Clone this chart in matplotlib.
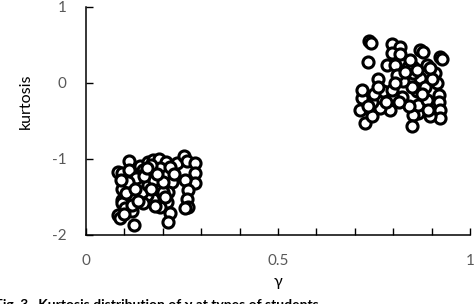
import matplotlib
matplotlib.use("Agg")
import matplotlib.pyplot as plt
import numpy as np

# Cluster 1 (low gamma)
g1 = [0.084, 0.093, 0.113, 0.113, 0.141, 0.148, 0.162, 0.175, 0.191, 0.208,
      0.175, 0.193, 0.210, 0.236, 0.255, 0.262, 0.284, 0.284, 0.284, 0.258,
      0.266, 0.262, 0.266, 0.258, 0.219, 0.223, 0.214, 0.210, 0.219, 0.214,
      0.193, 0.188, 0.174, 0.160, 0.149, 0.136, 0.115, 0.095, 0.093, 0.093,
      0.084, 0.089, 0.119, 0.125, 0.145, 0.162, 0.184, 0.193, 0.201, 0.102,
      0.141, 0.177, 0.100, 0.120, 0.130, 0.170, 0.200, 0.230, 0.110,
      0.105, 0.128, 0.152, 0.168, 0.185, 0.205, 0.090, 0.135, 0.158, 0.180]
k1 = [-1.17, -1.18, -1.02, -1.14, -1.09, -1.14, -1.04, -1.01, -1.00, -1.04,
      -1.19, -1.12, -1.21, -1.05, -0.96, -1.02, -1.05, -1.18, -1.32, -1.28,
      -1.41, -1.52, -1.63, -1.65, -1.10, -1.30, -1.43, -1.56, -1.71, -1.83,
      -1.63, -1.50, -1.53, -1.47, -1.58, -1.32, -1.50, -1.39, -1.54, -1.58,
      -1.74, -1.78, -1.69, -1.87, -1.43, -1.34, -1.32, -1.39, -1.43, -1.65,
      -1.23, -1.28, -1.72, -1.60, -1.25, -1.08, -1.30, -1.20, -1.30,
      -1.45, -1.40, -1.22, -1.40, -1.20, -1.50, -1.28, -1.55, -1.12, -1.62]

# Cluster 2 (high gamma)
g2 = [0.738, 0.741, 0.735, 0.796, 0.818, 0.796, 0.818, 0.783, 0.805, 0.852,
      0.870, 0.877, 0.922, 0.926, 0.887, 0.909, 0.913, 0.918, 0.918, 0.922,
      0.922, 0.896, 0.865, 0.852, 0.848, 0.865, 0.861, 0.870, 0.848, 0.826,
      0.822, 0.800, 0.792, 0.766, 0.744, 0.718, 0.714, 0.727, 0.744, 0.774,
      0.796, 0.852, 0.883, 0.887, 0.718, 0.839, 0.861, 0.750, 0.780, 0.810,
      0.840, 0.900, 0.890, 0.760,
      0.830, 0.875, 0.805, 0.760, 0.735, 0.895, 0.845, 0.815]
k2 = [0.557, 0.53, 0.27, 0.51, 0.48, 0.39, 0.38, 0.24, 0.24, 0.21,
      0.43, 0.41, 0.34, 0.31, 0.24, 0.13, 0.00, -0.16, -0.25, -0.36,
      -0.46, -0.44, -0.40, -0.42, -0.57, -0.29, -0.11, 0.06, -0.05, 0.02,
      -0.18, -0.20, -0.36, -0.33, -0.25, -0.20, -0.35, -0.53, -0.44, -0.11,
      -0.09, 0.13, -0.05, -0.22, -0.09, 0.21, 0.17, -0.15, -0.25, 0.10,
      -0.30, 0.05, -0.35, 0.05,
      0.15, -0.15, 0.00, -0.05, -0.30, 0.20, 0.30, -0.25]

xticks = [0, 0.1, 0.2, 0.3, 0.4, 0.5, 0.6, 0.7, 0.8, 0.9, 1.0]
xticklabels = ["0", "", "", "", "", "0.5", "", "", "", "", "1"]
yticks = [-2, -1, 0, 1]
yticklabels = ["-2", "-1", "0", "1"]

plt.rcParams['font.family'] = ['Lato', 'DejaVu Sans']

fig = plt.figure(figsize=(4.74, 3.04), dpi=100)
ax = fig.add_axes([86/474, 1-235/304, 384/474, 228/304])

g = np.array(g1 + g2)
k = np.array(k1 + k2)
ax.plot(g, k, linestyle='none', marker='o', markersize=8,
        markerfacecolor='white', markeredgecolor='black', markeredgewidth=2.2,
        clip_on=False)

ax.set_xlim(0, 1)
ax.set_ylim(-2, 1)
ax.set_xticks(xticks)
ax.set_xticklabels(xticklabels)
ax.set_yticks(yticks)
ax.set_yticklabels(yticklabels)

for s in ['top', 'right']:
    ax.spines[s].set_visible(False)
for s in ['left', 'bottom']:
    ax.spines[s].set_linewidth(1.1)
    ax.spines[s].set_color('black')

ax.tick_params(axis='both', direction='in', length=5, width=1.0, colors='black',
               labelcolor='#595959', labelsize=11)
ax.tick_params(axis='x', pad=14)
ax.tick_params(axis='y', pad=14)

ax.set_xlabel('γ', fontsize=11.5, color='black')
ax.xaxis.set_label_coords(0.5, -(275-235)/228, transform=ax.transAxes)
ax.set_ylabel('kurtosis', fontsize=11.5, color='black')
ax.yaxis.set_label_coords(-(86-33)/384, (235-101)/228)

fig.text(-0.01, 5/304, 'Fig. 3.  Kurtosis distribution of γ at types of students',
         fontsize=10, fontweight='bold', va='top', ha='left', color='black')

fig.savefig('out.png', dpi=100)
